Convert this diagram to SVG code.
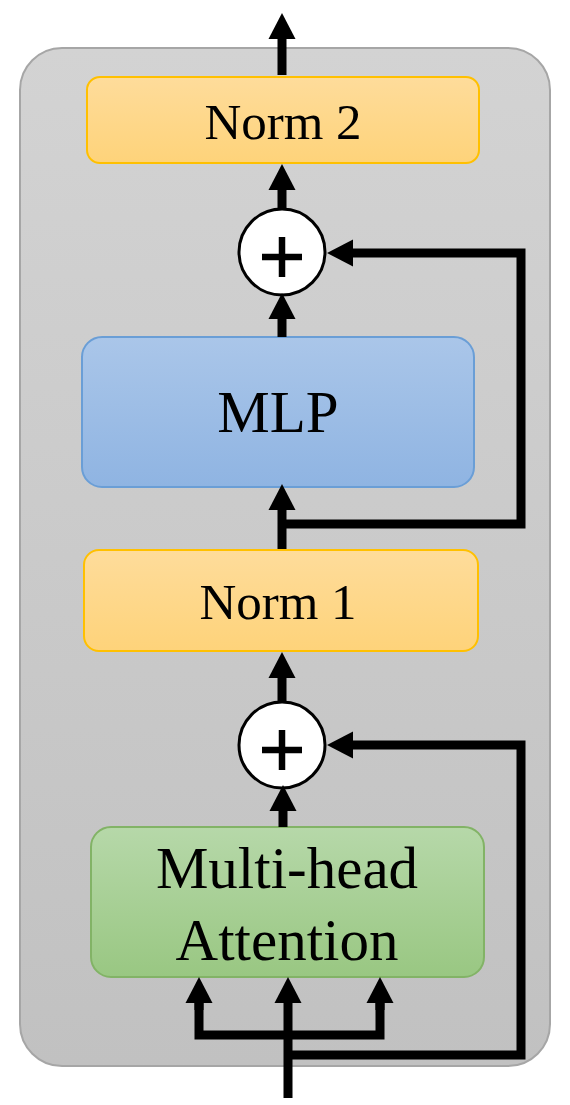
<svg xmlns="http://www.w3.org/2000/svg" width="570" height="1105" viewBox="0 0 570 1105">
<style>
.lbl{font-family:"Liberation Serif","Times New Roman",serif;fill:#000;text-anchor:middle}
.wire{fill:none;stroke:#000;stroke-width:9;stroke-linejoin:miter}
.plus{stroke:#000;stroke-width:6.5;stroke-linecap:butt}
.circ{fill:#fff;stroke:#000;stroke-width:3}
</style>
<defs>
<linearGradient id="gBg" x1="0" y1="0" x2="0" y2="1"><stop offset="0" stop-color="#d3d3d3"/><stop offset="1" stop-color="#c1c1c1"/></linearGradient>
<linearGradient id="gNorm" x1="0" y1="0" x2="0" y2="1"><stop offset="0" stop-color="#fedc9b"/><stop offset="1" stop-color="#fed37a"/></linearGradient>
<linearGradient id="gMlp" x1="0" y1="0" x2="0" y2="1"><stop offset="0" stop-color="#aac6e9"/><stop offset="1" stop-color="#8fb4e2"/></linearGradient>
<linearGradient id="gMha" x1="0" y1="0" x2="0" y2="1"><stop offset="0" stop-color="#b6d8a9"/><stop offset="1" stop-color="#99c782"/></linearGradient>
<marker id="ah" markerUnits="userSpaceOnUse" markerWidth="27" markerHeight="28" refX="0" refY="13.5" orient="auto" viewBox="0 0 27 28" overflow="visible">
<path d="M0,0 L26,13.5 L0,27 Z" fill="#000"/>
</marker>
</defs>
<rect id="block" x="20" y="48" width="530" height="1018" rx="42" ry="42" fill="url(#gBg)" stroke="#a6a6a6" stroke-width="2"/>
<g id="norm2">
<rect x="87" y="77" width="392" height="86" rx="13" fill="url(#gNorm)" stroke="#ffc000" stroke-width="2"/>
<text class="lbl" x="283" y="139" font-size="51">Norm 2</text>
</g>
<g id="add1">
<circle class="circ" cx="282" cy="252" r="43"/>
<line class="plus" x1="262" y1="257" x2="302" y2="257"/>
<line class="plus" x1="282" y1="237" x2="282" y2="277"/>
</g>
<g id="mlp">
<rect x="82" y="337" width="392" height="150" rx="20" fill="url(#gMlp)" stroke="#6a9ed6" stroke-width="2"/>
<text class="lbl" x="278" y="432" font-size="59">MLP</text>
</g>
<g id="norm1">
<rect x="84" y="550" width="394" height="101" rx="15" fill="url(#gNorm)" stroke="#ffc000" stroke-width="2"/>
<text class="lbl" x="278" y="619" font-size="51">Norm 1</text>
</g>
<g id="add2">
<circle class="circ" cx="282" cy="745" r="43"/>
<line class="plus" x1="262" y1="750" x2="302" y2="750"/>
<line class="plus" x1="282" y1="730" x2="282" y2="770"/>
</g>
<g id="mha">
<rect x="91" y="827" width="393" height="150" rx="20" fill="url(#gMha)" stroke="#82b366" stroke-width="2"/>
<text class="lbl" x="287" y="888" font-size="59">Multi-head</text>
<text class="lbl" x="287" y="960" font-size="59">Attention</text>
</g>
<g id="connectors">
<path class="wire" d="M282,75 V39" marker-end="url(#ah)"/>
<path class="wire" d="M282,209 V190" marker-end="url(#ah)"/>
<path class="wire" d="M282,337 V319" marker-end="url(#ah)"/>
<path class="wire" d="M282,549 V510" marker-end="url(#ah)"/>
<path class="wire" d="M282,702 V678" marker-end="url(#ah)"/>
<path class="wire" d="M283,827 V811" marker-end="url(#ah)"/>
<path class="wire" d="M282,524 H521 V253 H353" marker-end="url(#ah)"/>
<path class="wire" d="M288,1098 V1003" marker-end="url(#ah)"/>
<path class="wire" d="M199,1003 V1035 H380 V1003"/>
<path class="wire" d="M199,1010 V1003" marker-end="url(#ah)"/>
<path class="wire" d="M380,1010 V1003" marker-end="url(#ah)"/>
<path class="wire" d="M288,1055 H521 V745 H353" marker-end="url(#ah)"/>
</g>
</svg>
